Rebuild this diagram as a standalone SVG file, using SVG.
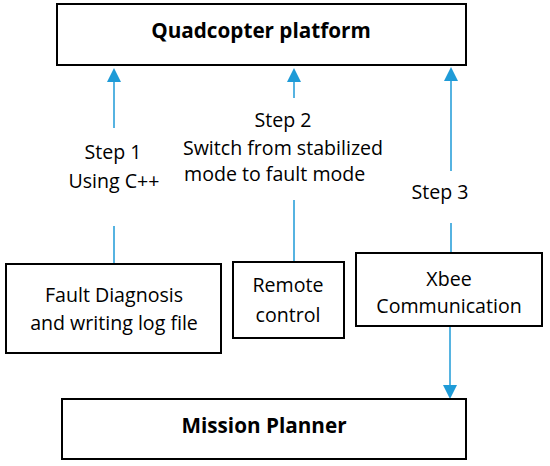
<svg xmlns="http://www.w3.org/2000/svg" width="550" height="466" viewBox="0 0 550 466">
<defs>
<style>
.box{fill:#fff;stroke:#000;stroke-width:2}
.t{font-family:"Open Sans","Noto Sans","Liberation Sans",sans-serif;font-size:19.6px;fill:#000}
.b{font-family:"Open Sans","Noto Sans","Liberation Sans",sans-serif;font-size:20.7px;font-weight:bold;fill:#000}
.c{fill:none;stroke:#1F9BD7;stroke-width:1.5}
</style>
<marker id="ah" viewBox="0 0 14 14" refX="0" refY="7" markerWidth="14" markerHeight="14" markerUnits="userSpaceOnUse" orient="auto">
<path d="M0,0 L14,7 L0,14 z" fill="#1F9BD7"/>
</marker>
</defs>
<rect width="550" height="466" fill="#fff"/>
<g id="connectors">
<path class="c" d="M114,264 V226 M114,128 V82" marker-end="url(#ah)"/>
<path class="c" d="M294,262 V200 M294,98 V82" marker-end="url(#ah)"/>
<path class="c" d="M451,253 V223 M451,171 V81" marker-end="url(#ah)"/>
<path class="c" d="M450,326 V385" marker-end="url(#ah)"/>
</g>
<g id="labels">
<text class="t" x="113" y="159" text-anchor="middle">Step 1</text>
<text class="t" x="114" y="188" text-anchor="middle">Using C++</text>
<text class="t" x="283" y="127" text-anchor="middle">Step 2</text>
<text class="t" x="283" y="155" text-anchor="middle">Switch from stabilized</text>
<text class="t" x="184" y="181">mode to fault mode</text>
<text class="t" x="440" y="199" text-anchor="middle">Step 3</text>
</g>
<g id="quadcopter">
<rect class="box" x="57" y="4" width="409" height="61"/>
<text class="b" x="261" y="38" text-anchor="middle">Quadcopter platform</text>
</g>
<g id="fault">
<rect class="box" x="6" y="264" width="215" height="89"/>
<text class="t" x="114" y="302" text-anchor="middle">Fault Diagnosis</text>
<text class="t" x="114" y="330" text-anchor="middle">and writing log file</text>
</g>
<g id="remote">
<rect class="box" x="233" y="262" width="111" height="76"/>
<text class="t" x="288" y="292" text-anchor="middle">Remote</text>
<text class="t" x="288" y="322" text-anchor="middle">control</text>
</g>
<g id="xbee">
<rect class="box" x="356" y="253" width="186" height="73"/>
<text class="t" x="449" y="286" text-anchor="middle">Xbee</text>
<text class="t" x="449" y="313" text-anchor="middle">Communication</text>
</g>
<g id="mission">
<rect class="box" x="62" y="399" width="404" height="60"/>
<text class="b" x="264" y="433" text-anchor="middle">Mission Planner</text>
</g>
</svg>
